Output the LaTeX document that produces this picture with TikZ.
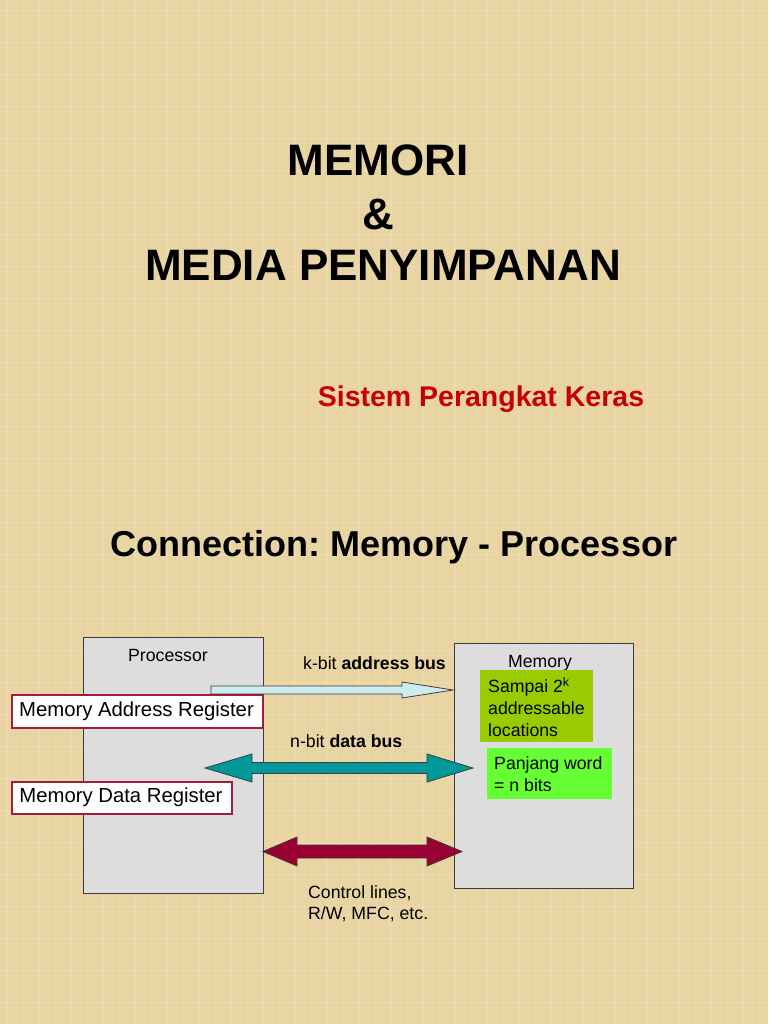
\documentclass[tikz,border=0pt]{standalone}
\usepackage{fontspec}
\setmainfont{Liberation Sans}
\usetikzlibrary{calc}
\frenchspacing
\definecolor{bgbeige}{RGB}{233,212,163}
\definecolor{boxgray}{RGB}{221,221,221}
\definecolor{edgegray}{RGB}{60,60,60}
\definecolor{regred}{RGB}{160,30,60}
\definecolor{titlered}{RGB}{200,0,0}
\definecolor{olivegreen}{RGB}{153,204,0}
\definecolor{brightgreen}{RGB}{102,255,51}
\definecolor{lightblue}{RGB}{204,236,240}
\definecolor{tealc}{RGB}{0,153,153}
\definecolor{maroonc}{RGB}{153,0,51}
\tikzset{
  title/.style={font=\fontsize{44}{50}\selectfont\bfseries, text=black},
  small/.style={font=\fontsize{17.7}{21.7}\selectfont, text=black, inner sep=0pt},
  unitbox/.style={draw=edgegray, line width=1.2pt, fill=boxgray},
  regbox/.style={draw=regred, line width=1.5pt, fill=white, inner sep=0pt},
  greenbox/.style={inner sep=0pt},
  busline/.style={draw=edgegray, line width=0.8pt},
}
\begin{document}
\begin{tikzpicture}[x=1pt,y=-1pt]
\useasboundingbox (0,0) rectangle (768,1024);
\fill[bgbeige] (0,0) rectangle (768,1024);
% faint texture
\foreach \i in {0,...,24}{
  \draw[white, opacity=0.12, line width=1.5pt] (\i*32+7,0) -- (\i*32+7,1024);
  \draw[brown, opacity=0.06, line width=1pt] (\i*32+19,0) -- (\i*32+19,1024);
}
\foreach \j in {0,...,32}{
  \draw[white, opacity=0.10, line width=1.2pt] (0,\j*32+11) -- (768,\j*32+11);
}

% titles
\node[title] (t1) at (378,160) {MEMORI};
\node[title] (t2) at (378,214) {\&};
\node[title] (t3) at (383,265) {MEDIA PENYIMPANAN};
\node[font=\fontsize{28.5}{32}\selectfont\bfseries, text=titlered] (sub) at (481,399) {Sistem Perangkat Keras};
\node[font=\fontsize{36}{40}\selectfont\bfseries] (conn) at (394,547) {Connection: Memory - Processor};

% processor and memory boxes
\node[unitbox, anchor=north west, minimum width=180pt, minimum height=256pt] (proc) at (83,637) {};
\node[small] (proclabel) at (168,655) {Processor};
\node[unitbox, anchor=north west, minimum width=179pt, minimum height=245pt] (mem) at (454,643) {};
\node[small] (memlabel) at (540,663) {Memory};

% green boxes
\node[greenbox, fill=olivegreen, anchor=north west, minimum width=113pt, minimum height=72pt] (g1) at (480,670) {};
\node[small, anchor=west, align=left] (g1text) at (488,707) {Sampai 2\textsuperscript{k}\\addressable\\locations};
\node[greenbox, fill=brightgreen, anchor=north west, minimum width=125pt, minimum height=51pt] (g2) at (487,748) {};
\node[small, anchor=west, align=left] (g2text) at (494,774) {Panjang word\\= n bits};

% address bus (single arrow)
\coordinate (aA) at (211,690);
\coordinate (aB) at (453,690);
\filldraw[busline, fill=lightblue]
  ($(aA)+(0,-4)$) -- ($(aB)+(-51,-4)$) -- ($(aB)+(-51,-8)$) -- (aB) --
  ($(aB)+(-51,8)$) -- ($(aB)+(-51,4)$) -- ($(aA)+(0,4)$) -- cycle;

% data bus (double arrow)
\coordinate (dA) at (205,768);
\coordinate (dB) at (473,768);
\filldraw[busline, fill=tealc]
  (dA) -- ($(dA)+(47,-14)$) -- ($(dA)+(47,-5.5)$) -- ($(dB)+(-46,-5.5)$) --
  ($(dB)+(-46,-14)$) -- (dB) -- ($(dB)+(-46,14)$) -- ($(dB)+(-46,5.5)$) --
  ($(dA)+(47,5.5)$) -- ($(dA)+(47,14)$) -- cycle;

% control lines (double arrow)
\coordinate (cA) at (263,851.5);
\coordinate (cB) at (462,851.5);
\filldraw[busline, fill=maroonc]
  (cA) -- ($(cA)+(34,-14.5)$) -- ($(cA)+(34,-6.5)$) -- ($(cB)+(-35,-6.5)$) --
  ($(cB)+(-35,-14.5)$) -- (cB) -- ($(cB)+(-35,14.5)$) -- ($(cB)+(-35,6.5)$) --
  ($(cA)+(34,6.5)$) -- ($(cA)+(34,14.5)$) -- cycle;

% registers
\node[regbox, anchor=north west, minimum width=251pt, minimum height=33pt] (mar) at (11,694) {};
\node[font=\fontsize{20.3}{24}\selectfont, inner sep=0pt] (martext) at (136.5,711) {Memory Address Register};
\node[regbox, anchor=north west, minimum width=220pt, minimum height=32pt] (mdr) at (11,781) {};
\node[font=\fontsize{20.3}{24}\selectfont, inner sep=0pt] (mdrtext) at (121,797) {Memory Data Register};

% bus labels
\node[small, anchor=west] (alabel) at (303,663) {k-bit \textbf{address bus}};
\node[small, anchor=west] (dlabel) at (290,741) {n-bit \textbf{data bus}};
\node[small, anchor=north west, align=left] (clabel) at (308,885) {Control lines,\\R/W, MFC, etc.};
\end{tikzpicture}
\end{document}
